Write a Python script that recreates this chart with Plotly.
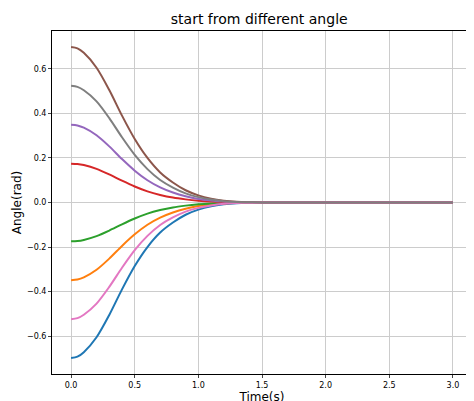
import plotly.graph_objects as go

time_s = [0, 0.05, 0.1, 0.2, 0.3, 0.4, 0.5, 0.6, 0.7, 0.8, 0.9, 1.0, 1.1, 1.2, 1.3, 1.4, 1.5, 2.0, 2.5, 3.0]

neg40 = [-0.698, -0.692, -0.672, -0.605, -0.505, -0.39, -0.285, -0.20, -0.135, -0.09, -0.055, -0.032, -0.017, -0.008, -0.003, -0.001, 0, 0, 0, 0]
neg20 = [-0.349, -0.346, -0.336, -0.302, -0.252, -0.195, -0.143, -0.10, -0.068, -0.045, -0.028, -0.016, -0.009, -0.004, -0.002, 0, 0, 0, 0, 0]
neg10 = [-0.1745, -0.173, -0.168, -0.151, -0.126, -0.098, -0.072, -0.05, -0.034, -0.022, -0.014, -0.008, -0.004, -0.002, -0.001, 0, 0, 0, 0, 0]
pos10 = [0.1745, 0.173, 0.168, 0.151, 0.126, 0.098, 0.072, 0.05, 0.034, 0.022, 0.014, 0.008, 0.004, 0.002, 0.001, 0, 0, 0, 0, 0]
pos20 = [0.349, 0.346, 0.336, 0.302, 0.252, 0.195, 0.143, 0.10, 0.068, 0.045, 0.028, 0.016, 0.009, 0.004, 0.002, 0, 0, 0, 0, 0]
pos40 = [0.698, 0.692, 0.672, 0.605, 0.505, 0.39, 0.285, 0.20, 0.135, 0.09, 0.055, 0.032, 0.017, 0.008, 0.003, 0.001, 0, 0, 0, 0]
neg30 = [-0.524, -0.519, -0.504, -0.454, -0.379, -0.293, -0.214, -0.15, -0.101, -0.067, -0.041, -0.024, -0.013, -0.006, -0.002, -0.001, 0, 0, 0, 0]
pos30 = [0.524, 0.519, 0.504, 0.454, 0.379, 0.293, 0.214, 0.15, 0.101, 0.067, 0.041, 0.024, 0.013, 0.006, 0.002, 0.001, 0, 0, 0, 0]

series = [neg40, neg20, neg10, pos10, pos20, pos40, neg30, pos30]
colors = ["#1f77b4", "#ff7f0e", "#2ca02c", "#d62728", "#9467bd", "#8c564b", "#e377c2", "#7f7f7f"]

fig = go.Figure()
for ys, c in zip(series, colors):
    fig.add_trace(go.Scatter(x=time_s, y=ys, mode="lines", line=dict(color=c, width=2, shape="spline", smoothing=0.8), showlegend=False))

fig.update_layout(
    width=474, height=401, paper_bgcolor="white", plot_bgcolor="white",
    margin=dict(l=40, r=9, t=23, b=33),
    title=dict(text="start from different angle", x=0.53, y=0.985, font=dict(family="DejaVu Sans", size=14, color="black")),
    font=dict(family="DejaVu Sans", size=8, color="black"),
)
ax = dict(showline=True, linecolor="black", mirror=True, gridcolor="#cccccc", zeroline=False, ticks="outside", ticklen=3)
fig.update_xaxes(range=[-0.15, 3.15], tickvals=[0, 0.5, 1, 1.5, 2, 2.5, 3], ticktext=["0.0", "0.5", "1.0", "1.5", "2.0", "2.5", "3.0"],
                 title=dict(text="Time(s)", font=dict(size=12), standoff=2), **ax)
fig.update_yaxes(range=[-0.77, 0.77], tickvals=[-0.6, -0.4, -0.2, 0, 0.2, 0.4, 0.6], ticktext=["−0.6", "−0.4", "−0.2", "0.0", "0.2", "0.4", "0.6"],
                 title=dict(text="Angle(rad)", font=dict(size=12), standoff=2), **ax)
fig.write_html("out.html")
